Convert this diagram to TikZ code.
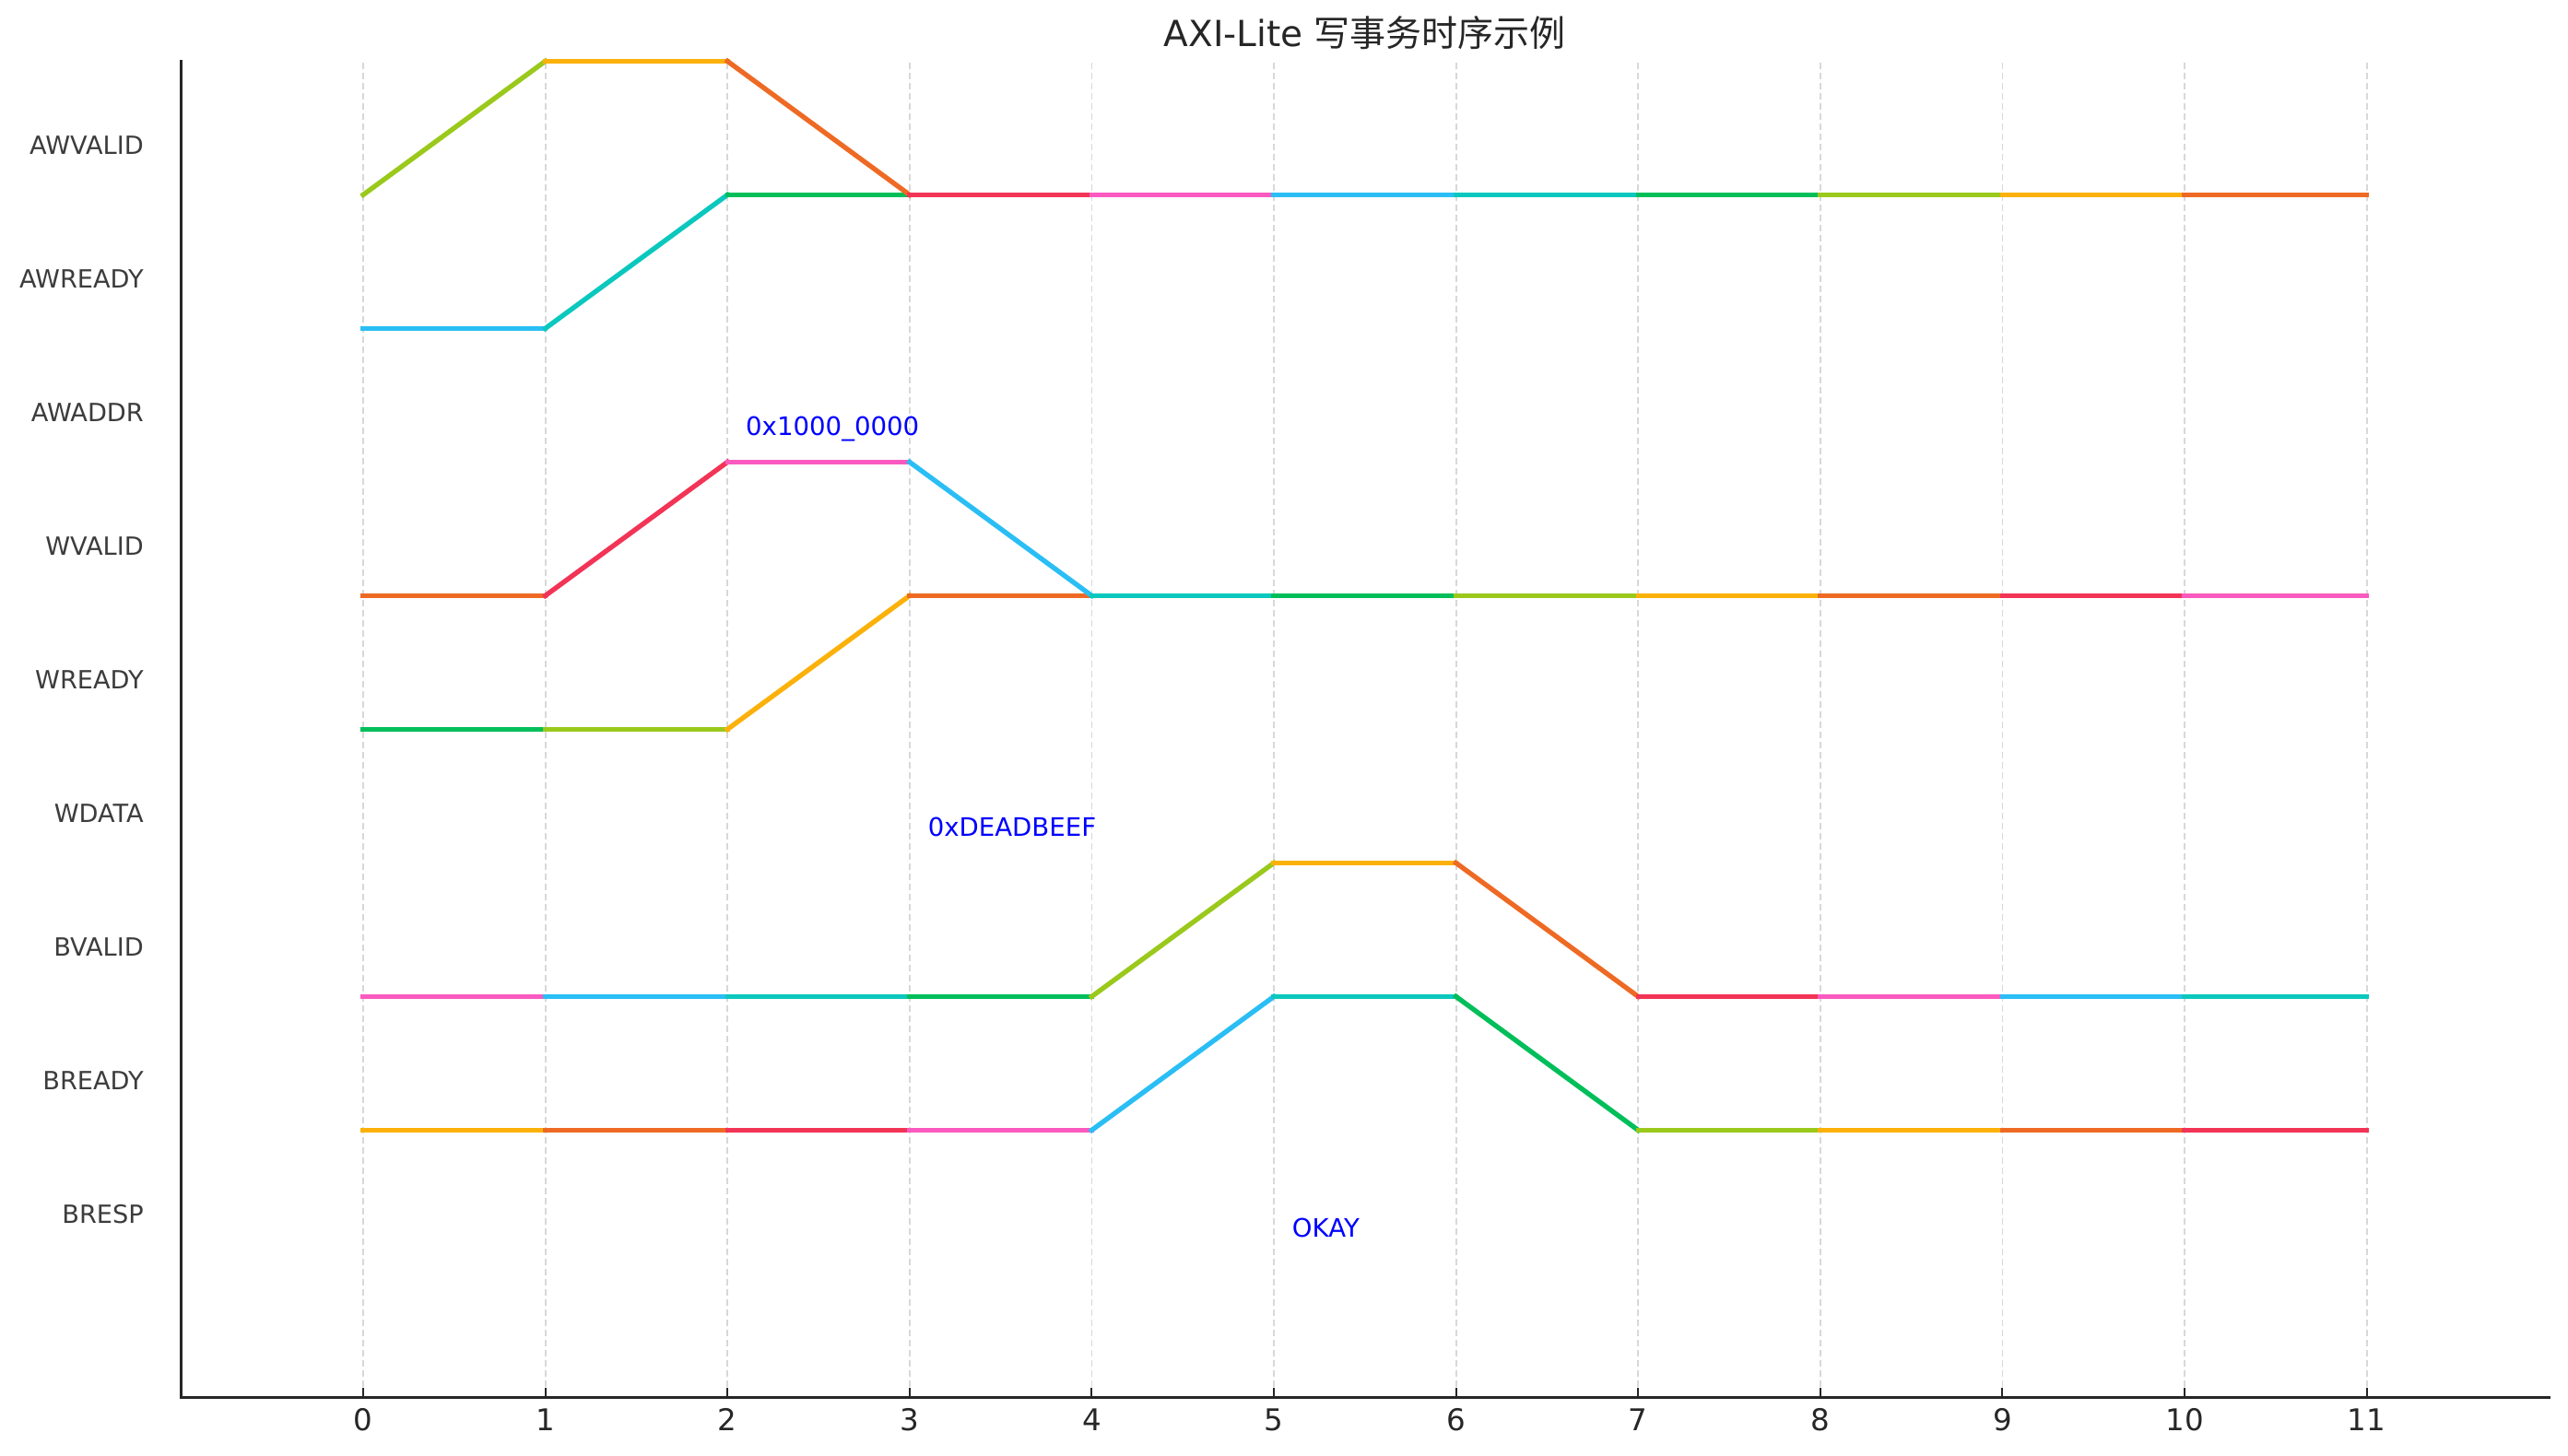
\documentclass[tikz,border=0pt]{standalone}
\usepackage{fontspec}
\setmainfont{DejaVu Sans}
\newfontfamily\cjk{Noto Sans CJK SC}
\definecolor{sc0}{HTML}{9AC91C}
\definecolor{sc1}{HTML}{FBB10A}
\definecolor{sc2}{HTML}{EE6A24}
\definecolor{sc3}{HTML}{F23456}
\definecolor{sc4}{HTML}{FA5ABF}
\definecolor{sc5}{HTML}{2ABEF5}
\definecolor{sc6}{HTML}{0BC8BE}
\definecolor{sc7}{HTML}{00BE5A}
\definecolor{axisc}{HTML}{262626}
\definecolor{gridc}{HTML}{D8D8D8}
\definecolor{annc}{HTML}{0000FF}
\tikzset{
  gridline/.style={draw=gridc, line width=1.8pt, dash pattern=on 7pt off 4pt},
  spine/.style={draw=axisc, line width=2.7pt, line cap=rect},
  tickmark/.style={draw=axisc, line width=2pt},
  siglabel/.style={anchor=base east, inner sep=0pt, text=axisc!90, font=\fontsize{27.2}{32}\selectfont},
  ticklabel/.style={anchor=base, inner sep=0pt, text=axisc, font=\fontsize{32.5}{38}\selectfont},
  annot/.style={anchor=base west, inner sep=0pt, text=annc, font=\fontsize{27.6}{32}\selectfont},
  titlestyle/.style={anchor=base, inner sep=0pt, text=axisc, font=\fontsize{39}{46}\selectfont},
  wave/.style={line width=5.3pt, line cap=rect}
}
\newcommand{\drawsig}[4]{% row, start colour index, values array, last segment
  \foreach \j in {0,...,#4} {
    \pgfmathtruncatemacro{\ci}{mod(#2+\j,8)}
    \pgfmathsetmacro{\va}{#3[\j]}
    \pgfmathsetmacro{\vb}{#3[\j+1]}
    \pgfmathtruncatemacro{\jn}{\j+1}
    \draw[wave, draw=sc\ci] (\j,{-#1+\va}) -- (\jn,{-#1+\vb});
  }
}
\begin{document}
\begin{tikzpicture}[x=197.6pt, y=145pt]
\useasboundingbox (-1.99393,-9.43862) rectangle (12.1053,1.45793);
% grid
\foreach \t in {0,...,11} {
  \draw[gridline] (\t,-9) -- (\t,1);
}
% spines
\draw[spine] (-1,1) -- (-1,-9) -- (12,-9);
% ticks and labels
\foreach \t in {0,...,11} {
  \draw[tickmark] (\t,-9) -- (\t,{-9+10/145});
  \node[ticklabel] (tl\t) at (\t,-9.252) {\t};
}
% signal labels
\foreach \name [count=\i from 0] in {AWVALID,AWREADY,AWADDR,WVALID,WREADY,WDATA,BVALID,BREADY,BRESP} {
  \node[siglabel] (lab\i) at (-1.2045,{-\i+0.301}) {\name};
}
% waveforms
\drawsig{1}{5}{{0,0,1,1,1,1,1,1,1,1,1,1}}{2}
\drawsig{0}{0}{{0,1,1,0,0,0,0,0,0,0,0,0}}{10}
\drawsig{4}{7}{{0,0,0,1,1,1,1,1,1,1,1,1}}{3}
\drawsig{3}{2}{{0,0,1,1,0,0,0,0,0,0,0,0}}{10}
\drawsig{6}{4}{{0,0,0,0,0,1,1,0,0,0,0,0}}{10}
\drawsig{7}{1}{{0,0,0,0,0,1,1,0,0,0,0,0}}{10}
% annotations
\node[annot] (addr) at (2.1,-1.8) {0x1000\_0000};
\node[annot] (data) at (3.1,-4.8) {0xDEADBEEF};
\node[annot] (resp) at (5.1,-7.8) {OKAY};
% title
\node[titlestyle] (title) at (5.5,1.113) {AXI-Lite {\cjk 写事务时序示例}};
\end{tikzpicture}
\end{document}
